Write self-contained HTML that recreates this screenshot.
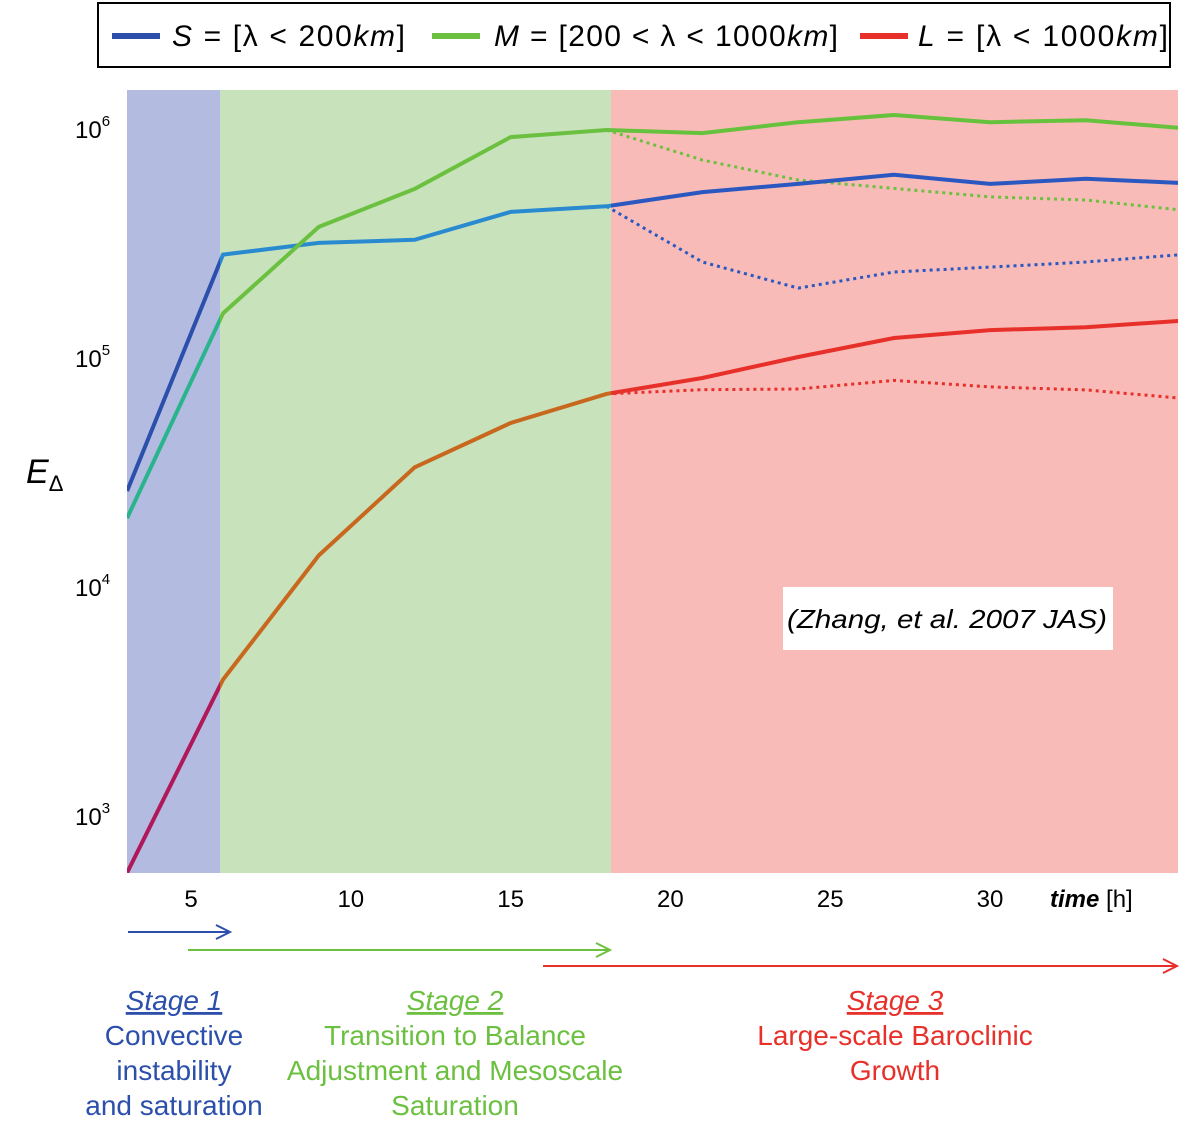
<!DOCTYPE html>
<html><head><meta charset="utf-8">
<style>
body{margin:0;background:#fff;width:1183px;height:1119px;overflow:hidden;font-family:"Liberation Sans",sans-serif}
svg text{font-family:"Liberation Sans",sans-serif}
</style></head>
<body>
<svg id="chart" width="1183" height="1119" viewBox="0 0 1183 1119">
<defs>
<clipPath id="c1"><rect x="0" y="0" width="220" height="1119"/></clipPath>
<clipPath id="c2"><rect x="220" y="0" width="391" height="1119"/></clipPath>
<clipPath id="c3"><rect x="611" y="0" width="600" height="1119"/></clipPath>
<clipPath id="plot"><rect x="127" y="90" width="1051" height="783"/></clipPath>
</defs>
<rect x="127" y="90" width="93" height="783" fill="#b3bbe0"/>
<rect x="220" y="90" width="391" height="783" fill="#c8e3bb"/>
<rect x="611" y="90" width="567" height="783" fill="#f8bbb8"/>
<g id="series" clip-path="url(#plot)"></g>
<g id="ticks"></g>
<rect x="783" y="587" width="330" height="63" fill="#fff"/>
<text x="787" y="628" font-size="26" font-style="italic" textLength="320" lengthAdjust="spacingAndGlyphs">(Zhang, et al. 2007 JAS)</text>
<text x="26" y="483" font-size="34" font-style="italic">E<tspan font-size="22" font-style="normal" dy="8">Δ</tspan></text>
<text x="1050" y="907" font-size="24"><tspan font-weight="bold" font-style="italic">time</tspan> [h]</text>
<rect x="98" y="3" width="1072" height="64" fill="#fff" stroke="#000" stroke-width="2"/>
<line x1="112" y1="36" x2="160" y2="36" stroke="#2b4faa" stroke-width="6"/>
<text x="172" y="46" font-size="30" textLength="233" lengthAdjust="spacing"><tspan font-style="italic">S</tspan> = [λ &lt; 200<tspan font-style="italic">km</tspan>]</text>
<line x1="432" y1="36" x2="480" y2="36" stroke="#6cc040" stroke-width="6"/>
<text x="494" y="46" font-size="30" textLength="344" lengthAdjust="spacing"><tspan font-style="italic">M</tspan> = [200 &lt; λ &lt; 1000<tspan font-style="italic">km</tspan>]</text>
<line x1="860" y1="36" x2="908" y2="36" stroke="#e8302a" stroke-width="6"/>
<text x="918" y="46" font-size="30" textLength="250" lengthAdjust="spacing"><tspan font-style="italic">L</tspan> = [λ &lt; 1000<tspan font-style="italic">km</tspan>]</text>
<g stroke-width="2" fill="none">
<line x1="128" y1="932" x2="228" y2="932" stroke="#2b4faa"/><path d="M216,925 L230,932 L216,939" stroke="#2b4faa"/>
<line x1="188" y1="950" x2="608" y2="950" stroke="#6cc040"/><path d="M596,943 L610,950 L596,957" stroke="#6cc040"/>
<line x1="543" y1="966" x2="1175" y2="966" stroke="#e8302a"/><path d="M1163,959 L1177,966 L1163,973" stroke="#e8302a"/>
</g>
<g font-size="28" text-anchor="middle">
<text x="174" y="1010" fill="#2b4faa" font-style="italic" text-decoration="underline">Stage 1</text>
<text fill="#2b4faa"><tspan x="174" y="1045">Convective</tspan><tspan x="174" y="1080">instability</tspan><tspan x="174" y="1115">and saturation</tspan></text>
<text x="455" y="1010" fill="#6cc040" font-style="italic" text-decoration="underline">Stage 2</text>
<text fill="#6cc040"><tspan x="455" y="1045">Transition to Balance</tspan><tspan x="455" y="1080">Adjustment and Mesoscale</tspan><tspan x="455" y="1115">Saturation</tspan></text>
<text x="895" y="1010" fill="#e8302a" font-style="italic" text-decoration="underline">Stage 3</text>
<text fill="#e8302a"><tspan x="895" y="1045">Large-scale Baroclinic</tspan><tspan x="895" y="1080">Growth</tspan></text>
</g>
</svg>
<script>
const times=[3,6,9,12,15,18,21,24,27,30,33,36];
const sVals=[26000,280000,315000,325000,430000,455000,525000,570000,625000,570000,600000,575000];
const mVals=[19800,155000,370000,542000,913000,980000,950000,1060000,1140000,1060000,1080000,1000000];
const lVals=[560,3900,13600,33000,51500,69000,81000,100000,121000,131000,135000,144000];
const dotTimes=[18,21,24,27,30,33,36];
const sDot=[455000,260000,200000,235000,247000,260000,280000];
const mDot=[980000,725000,593000,545000,500000,485000,438000];
const lDot=[69000,72000,72500,79000,74000,71800,66000];
const xTicks=[5,10,15,20,25,30];
const yTicks=[3,4,5,6];
const NS='http://www.w3.org/2000/svg';
const xs=t=>191+(t-5)*31.96;
const ys=v=>128+(6-Math.log10(v))*229;
const g=document.getElementById('series');
function pts(tt,vv){return tt.map((t,i)=>xs(t).toFixed(1)+','+ys(vv[i]).toFixed(1)).join(' ');}
function line(tt,vv,col,clip,name,dash){
 const p=document.createElementNS(NS,'polyline');
 p.setAttribute('points',pts(tt,vv));
 p.setAttribute('fill','none');p.setAttribute('stroke',col);
 p.setAttribute('stroke-width',dash?3:4);
 if(dash)p.setAttribute('stroke-dasharray','3 4');
 if(clip)p.setAttribute('clip-path','url(#'+clip+')');
 
 
 g.appendChild(p);
}
line(dotTimes,sDot,'#2b58c0',null,'s-dotted-line',true);
line(dotTimes,mDot,'#6cc040',null,'m-dotted-line',true);
line(dotTimes,lDot,'#e8302a',null,'l-dotted-line',true);
const cols={s:['#2b4faa','#2a8ad0','#2b58c0'],m:['#2ab48c','#6cc040','#66c23c'],l:['#b0185a','#c8681e','#e8302a']};
[['s',sVals],['m',mVals],['l',lVals]].forEach(([k,v])=>{
 ['c1','c2','c3'].forEach((c,i)=>line(times,v,cols[k][i],c,k+'-line-stage'+(i+1),false));
});
const tk=document.getElementById('ticks');
xTicks.forEach(t=>{
 const e=document.createElementNS(NS,'text');
 e.setAttribute('x',xs(t));e.setAttribute('y',907);e.setAttribute('font-size','24');e.setAttribute('text-anchor','middle');
 e.textContent=t;
 
 
 tk.appendChild(e);
});
yTicks.forEach(d=>{
 const e=document.createElementNS(NS,'text');
 e.setAttribute('x',75);e.setAttribute('y',ys(Math.pow(10,d))+10);e.setAttribute('font-size','24');e.setAttribute('text-anchor','start');
 e.innerHTML='10<tspan font-size="15" dy="-12">'+d+'</tspan>';
 
 
 tk.appendChild(e);
});
</script>
</body></html>
